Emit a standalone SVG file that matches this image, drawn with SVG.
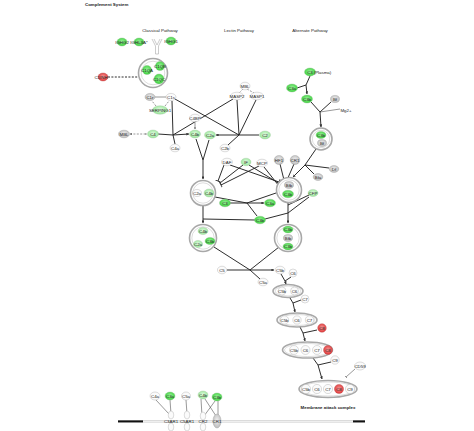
<svg xmlns="http://www.w3.org/2000/svg" width="474" height="431" viewBox="0 0 474 431">
<defs>
<style>
.t{font-family:"Liberation Sans",Arial,sans-serif;font-size:4.4px;text-anchor:middle;dominant-baseline:central;fill:#222}
.h{font-family:"Liberation Sans",Arial,sans-serif;font-size:4.6px;fill:#222}
.b{font-weight:bold}
.g{fill:url(#gg);stroke:#8fbf8f;stroke-width:0.4}
.lg{fill:url(#lgg);stroke:#a9c9a9;stroke-width:0.4}
.gr{fill:url(#grg);stroke:#999;stroke-width:0.4}
.w{fill:#fbfbfb;stroke:#aaa;stroke-width:0.4}
.r{fill:url(#rg);stroke:#b55;stroke-width:0.4}
.cx1{fill:#fff;stroke:#a8a8a8;stroke-width:1.6}
.cx2{fill:#fff;stroke:#bbb;stroke-width:0.5}
.ln{stroke:#222;stroke-width:0.95;fill:none}
.tn{stroke:#444;stroke-width:0.55;fill:none}
.d{stroke-dasharray:2,1.4}
</style>
<radialGradient id="gg" cx="50%" cy="45%" r="60%"><stop offset="0" stop-color="#9cf09c"/><stop offset="1" stop-color="#2fcf2f"/></radialGradient>
<radialGradient id="lgg" cx="50%" cy="45%" r="60%"><stop offset="0" stop-color="#e2fae2"/><stop offset="1" stop-color="#8ee38e"/></radialGradient>
<radialGradient id="grg" cx="50%" cy="45%" r="60%"><stop offset="0" stop-color="#f0f0f0"/><stop offset="1" stop-color="#b8b8b8"/></radialGradient>
<radialGradient id="rg" cx="50%" cy="45%" r="60%"><stop offset="0" stop-color="#f49a9a"/><stop offset="1" stop-color="#dd2a2a"/></radialGradient>
<marker id="a" viewBox="0 0 6 6" refX="5.5" refY="3" markerWidth="3" markerHeight="3" orient="auto"><path d="M0,0 L6,3 L0,6 z" fill="#333"/></marker>
<marker id="as" viewBox="0 0 6 6" refX="0.5" refY="3" markerWidth="3.2" markerHeight="3.2" orient="auto"><path d="M6,0 L0,3 L6,6 z" fill="#333"/></marker>
<marker id="tee" viewBox="0 0 2 8" refX="1" refY="4" markerWidth="1.6" markerHeight="6" orient="auto"><path d="M1,0 L1,8" stroke="#333" stroke-width="1.2"/></marker>
</defs>
<rect width="474" height="431" fill="#fff"/>

<text class="h b" x="85" y="6" style="font-size:4.4px">Complement System</text>
<text class="t" x="160" y="30">Classical Pathway</text>
<text class="t" x="239" y="30">Lectin Pathway</text>
<text class="t" x="310" y="30">Alternate Pathway</text>

<g id="connectors">
<line class="ln d" x1="108" y1="77" x2="138" y2="77"/>
<line class="tn" x1="155" y1="97" x2="166" y2="97"/>
<line class="tn d" x1="156" y1="106" x2="152" y2="101"/>
<line class="tn d" x1="165" y1="106" x2="169" y2="101"/>
<line class="ln" x1="172" y1="101" x2="173" y2="135"/>
<line class="ln" x1="175" y1="99" x2="239" y2="135"/>
<line class="ln" x1="233" y1="99" x2="173" y2="135"/>
<line class="ln" x1="237" y1="100" x2="239" y2="135"/>
<line class="ln" x1="256" y1="100" x2="239" y2="135"/>
<line class="tn d" x1="243" y1="89" x2="239" y2="93"/>
<line class="tn d" x1="247" y1="89" x2="254" y2="93"/>
<line class="tn d" x1="130" y1="134" x2="147" y2="134" marker-start="url(#as)" marker-end="url(#a)"/>
<line class="ln" x1="158" y1="134" x2="173" y2="135"/>
<line class="ln" x1="173" y1="135" x2="189" y2="134" marker-end="url(#a)"/>
<line class="ln" x1="173" y1="135" x2="175" y2="144"/>
<line class="tn" x1="195" y1="122" x2="195" y2="129" marker-end="url(#a)"/>
<line class="ln" x1="259" y1="135" x2="239" y2="135"/>
<line class="ln" x1="239" y1="135" x2="216" y2="135" marker-end="url(#a)"/>
<line class="ln" x1="239" y1="135" x2="228" y2="145"/>
<line class="ln" x1="196" y1="139" x2="203" y2="160"/>
<line class="ln" x1="209" y1="140" x2="203" y2="160"/>
<line class="ln" x1="203" y1="160" x2="203" y2="179" marker-end="url(#a)"/>
<line class="ln" x1="310" y1="76" x2="306" y2="85"/>
<line class="ln" x1="306" y1="85" x2="297" y2="88"/>
<line class="ln" x1="306" y1="85" x2="307" y2="94" marker-end="url(#a)"/>
<line class="ln" x1="311" y1="102" x2="320" y2="112"/>
<line class="ln" x1="331" y1="102" x2="320" y2="112"/>
<line class="tn" x1="340" y1="109" x2="320" y2="112"/>
<line class="ln" x1="320" y1="112" x2="321" y2="127" marker-end="url(#a)"/>
<line class="ln" x1="316" y1="149" x2="305" y2="165"/>
<line class="ln" x1="305" y1="165" x2="293" y2="177" marker-end="url(#a)"/>
<line class="ln" x1="329" y1="168" x2="305" y2="165"/>
<line class="ln" x1="305" y1="165" x2="314" y2="174"/>
<line class="ln" x1="280" y1="164" x2="284" y2="180" marker-end="url(#tee)"/>
<line class="ln" x1="294" y1="164" x2="287" y2="180" marker-end="url(#tee)"/>
<line class="ln" x1="224" y1="165" x2="218" y2="181" marker-end="url(#tee)"/>
<line class="ln" x1="230" y1="165" x2="279" y2="182" marker-end="url(#tee)"/>
<line class="ln" x1="243" y1="165" x2="220" y2="183" marker-end="url(#tee)"/>
<line class="ln" x1="249" y1="165" x2="280" y2="184" marker-end="url(#tee)"/>
<line class="ln" x1="259" y1="166" x2="221" y2="185" marker-end="url(#tee)"/>
<line class="ln" x1="264" y1="167" x2="279" y2="186" marker-end="url(#tee)"/>
<line class="ln" x1="215" y1="197" x2="247" y2="203"/>
<line class="ln" x1="276" y1="193" x2="247" y2="203"/>
<line class="ln" x1="230" y1="203" x2="247" y2="203"/>
<line class="ln" x1="247" y1="203" x2="264" y2="203" marker-end="url(#a)"/>
<line class="ln" x1="247" y1="203" x2="257" y2="216"/>
<line class="ln" x1="255" y1="220" x2="203" y2="219"/>
<line class="ln" x1="265" y1="219" x2="288" y2="213"/>
<line class="ln" x1="309" y1="195" x2="288" y2="205"/>
<line class="ln" x1="309" y1="197" x2="288" y2="213"/>
<line class="ln" x1="203" y1="206" x2="203" y2="223" marker-end="url(#a)"/>
<line class="ln" x1="288" y1="203" x2="288" y2="223" marker-end="url(#a)"/>
<line class="ln" x1="214" y1="247" x2="250" y2="270"/>
<line class="ln" x1="279" y1="247" x2="250" y2="270"/>
<line class="ln" x1="227" y1="270" x2="250" y2="270"/>
<line class="ln" x1="250" y1="270" x2="274" y2="270" marker-end="url(#a)"/>
<line class="ln" x1="250" y1="270" x2="260" y2="279"/>
<line class="ln" x1="281" y1="274" x2="285" y2="281"/>
<line class="ln" x1="291" y1="277" x2="285" y2="281"/>
<line class="ln" x1="285" y1="281" x2="286" y2="284" marker-end="url(#a)"/>
<line class="ln" x1="290" y1="298" x2="293" y2="303"/>
<line class="ln" x1="301" y1="300" x2="293" y2="303"/>
<line class="ln" x1="293" y1="303" x2="295" y2="312" marker-end="url(#a)"/>
<line class="ln" x1="300" y1="327" x2="303" y2="333"/>
<line class="ln" x1="317" y1="330" x2="303" y2="333"/>
<line class="ln" x1="303" y1="333" x2="305" y2="341" marker-end="url(#a)"/>
<line class="ln" x1="313" y1="358" x2="318" y2="365"/>
<line class="ln" x1="331" y1="362" x2="318" y2="365"/>
<line class="ln" x1="318" y1="365" x2="322" y2="379" marker-end="url(#a)"/>
<line class="tn" x1="355" y1="369" x2="346" y2="377" marker-end="url(#tee)"/>
<line class="tn" x1="156" y1="400" x2="169" y2="414"/>
<line class="tn" x1="170" y1="400" x2="171" y2="414"/>
<line class="tn" x1="186" y1="400" x2="187" y2="414"/>
<line class="tn" x1="201" y1="399" x2="202" y2="416"/>
<line class="tn" x1="205" y1="399" x2="216" y2="416"/>
<line class="tn" x1="215" y1="401" x2="204" y2="416"/>
<line class="tn" x1="218" y1="401" x2="218" y2="416"/>
</g>

<g id="membrane">
<line x1="118" y1="420.6" x2="365" y2="420.6" stroke="#999" stroke-width="0.4"/>
<line x1="118" y1="422.2" x2="365" y2="422.2" stroke="#999" stroke-width="0.4"/>
<line x1="118" y1="421.4" x2="143" y2="421.4" stroke="#111" stroke-width="2"/>
<line x1="353" y1="421.4" x2="365" y2="421.4" stroke="#111" stroke-width="2"/>
</g>

<g id="antibodies">
<ellipse class="g" cx="122" cy="42" rx="5" ry="4"/><text class="t" x="122" y="42">IGHG2</text>
<ellipse class="g" cx="139" cy="42" rx="5" ry="4"/><text class="t" x="139" y="42">IGHL3A*</text>
<ellipse class="g" cx="171" cy="41" rx="5" ry="4"/><text class="t" x="171" y="41">IGHG1</text>
<path d="M152,39 L155.5,46 L155.5,54 L158.5,54 L158.5,46 L162,39 M154,39 L157,45 L160,39" fill="none" stroke="#aaa" stroke-width="0.6"/>
</g>

<g id="C1">
<circle class="cx1" cx="153" cy="73" r="14.5"/><circle class="cx2" cx="153" cy="73" r="11.8"/>
<circle class="g" cx="160" cy="66" r="4.6"/><text class="t" x="160" y="66">C1QB</text>
<circle class="g" cx="147" cy="70" r="4.6"/><text class="t" x="147" y="70">C1QA</text>
<circle class="g" cx="159" cy="79" r="5"/><text class="t" x="159" y="79">C1QC</text>
</g>
<g id="C1INH"><ellipse class="r" cx="103" cy="77" rx="5" ry="4"/><text class="t" x="101" y="77">C1INH</text></g>
<g id="C1r"><ellipse class="gr" cx="150" cy="97" rx="5" ry="3.6"/><text class="t" x="150" y="97">C1r</text></g>
<g id="C1s"><ellipse class="w" cx="171" cy="97" rx="5" ry="3.6"/><text class="t" x="171" y="97">C1s</text></g>
<g id="SERPING1"><ellipse class="lg" cx="160" cy="110" rx="7.5" ry="4.2"/><text class="t" x="160" y="110">SERPING1</text></g>
<g id="MBL1"><ellipse class="gr" cx="124" cy="134" rx="5.5" ry="3.8"/><text class="t" x="124" y="134">MBL</text></g>
<g id="C4"><ellipse class="lg" cx="153" cy="134" rx="5.5" ry="4"/><text class="t" x="153" y="134">C4</text></g>
<g id="C4a"><ellipse class="w" cx="175" cy="148" rx="5" ry="3.8"/><text class="t" x="175" y="148">C4a</text></g>
<g id="C4b"><ellipse class="lg" cx="195" cy="134" rx="5.5" ry="4"/><text class="t" x="195" y="134">C4b</text></g>
<g id="C4BP"><ellipse class="w" cx="195" cy="118" rx="5.5" ry="3.8"/><text class="t" x="195" y="118">C4BP</text></g>
<g id="C2a"><ellipse class="lg" cx="210" cy="135" rx="5.5" ry="4"/><text class="t" x="210" y="135">C2a</text></g>
<g id="C2b"><ellipse class="w" cx="225" cy="148" rx="5" ry="3.8"/><text class="t" x="225" y="148">C2b</text></g>
<g id="C2"><ellipse class="lg" cx="265" cy="135" rx="5.5" ry="4"/><text class="t" x="265" y="135">C2</text></g>
<g id="MBL2"><ellipse class="w" cx="245" cy="86" rx="5" ry="3.8"/><text class="t" x="245" y="86">MBL</text></g>
<g id="MASP2"><ellipse class="w" cx="237" cy="96" rx="6.5" ry="3.8"/><text class="t" x="237" y="96">MASP2</text></g>
<g id="MASP1"><ellipse class="w" cx="257" cy="96" rx="6.5" ry="3.8"/><text class="t" x="257" y="96">MASP1</text></g>

<g id="C3plasma"><ellipse class="g" cx="310" cy="72" rx="5.5" ry="4"/><text class="t" x="310" y="72">C3</text><text class="t" x="322.5" y="72">(Plasma)</text></g>
<g id="C3a1"><ellipse class="g" cx="292" cy="88" rx="5.5" ry="4"/><text class="t" x="292" y="88">C3a</text></g>
<g id="C3b1"><ellipse class="g" cx="307" cy="99" rx="5.5" ry="4"/><text class="t" x="307" y="99">C3b</text></g>
<g id="Bf"><ellipse class="gr" cx="335" cy="99" rx="4.5" ry="3.6"/><text class="t" x="335" y="99">Bf</text></g>
<g id="Mg"><text class="t" x="346" y="110">Mg2+</text></g>
<g id="C3bB">
<circle class="cx1" cx="321" cy="139" r="11"/><circle class="cx2" cx="321" cy="139" r="8.7"/>
<ellipse class="g" cx="321" cy="135" rx="5" ry="3.6"/><text class="t" x="321" y="135">C3b</text>
<ellipse class="gr" cx="322" cy="143" rx="4.5" ry="3.4"/><text class="t" x="322" y="143">Bf</text>
</g>

<g id="DAF"><ellipse class="w" cx="227" cy="162" rx="5.5" ry="3.8"/><text class="t" x="227" y="162">DAF</text></g>
<g id="IF"><ellipse class="lg" cx="246" cy="162" rx="5" ry="3.8"/><text class="t" x="246" y="162">IF</text></g>
<g id="MCP"><ellipse class="w" cx="262" cy="163" rx="5.5" ry="3.8"/><text class="t" x="262" y="163">MCP</text></g>
<g id="HF1"><ellipse class="gr" cx="279" cy="160" rx="4.8" ry="4.5"/><text class="t" x="279" y="160">HF1</text></g>
<g id="CR1a"><ellipse class="gr" cx="295" cy="160" rx="4.8" ry="4.5"/><text class="t" x="295" y="160">CR1</text></g>
<g id="Df"><ellipse class="gr" cx="334" cy="169" rx="4.8" ry="3.4"/><text class="t" x="334" y="169">Df</text></g>
<g id="Bfa"><ellipse class="gr" cx="318" cy="177" rx="4.8" ry="3.4"/><text class="t" x="318" y="177">Bfa</text></g>

<g id="C4b2a">
<circle class="cx1" cx="203" cy="193" r="12.5"/><circle class="cx2" cx="203" cy="193" r="10.2"/>
<ellipse class="lg" cx="209" cy="193" rx="5" ry="4"/><text class="t" x="209" y="193">C4b</text>
<ellipse class="w" cx="197" cy="193" rx="4.6" ry="3.6"/><text class="t" x="197" y="193">C2a</text>
</g>
<g id="C3bBb">
<circle class="cx1" cx="289" cy="190" r="12.5"/><circle class="cx2" cx="289" cy="190" r="10.2"/>
<ellipse class="gr" cx="289" cy="185" rx="4.6" ry="3.4"/><text class="t" x="289" y="185">Bfb</text>
<ellipse class="g" cx="288" cy="194" rx="5.5" ry="3.8"/><text class="t" x="288" y="194">C3b</text>
</g>
<g id="CFP"><ellipse class="lg" cx="313" cy="193" rx="5" ry="3.6"/><text class="t" x="313" y="193">CFP</text></g>
<g id="C3"><ellipse class="g" cx="225" cy="203" rx="5.5" ry="3.8"/><text class="t" x="225" y="203">C3</text></g>
<g id="C3a2"><ellipse class="g" cx="270" cy="203" rx="5.5" ry="3.8"/><text class="t" x="270" y="203">C3a</text></g>
<g id="C3b2"><ellipse class="g" cx="260" cy="220" rx="5.5" ry="3.8"/><text class="t" x="260" y="220">C3b</text></g>

<g id="C4b2a3b">
<circle class="cx1" cx="203" cy="238" r="13.5"/><circle class="cx2" cx="203" cy="238" r="11.2"/>
<ellipse class="lg" cx="203" cy="231" rx="5" ry="3.6"/><text class="t" x="203" y="231">C4b</text>
<ellipse class="lg" cx="198" cy="244" rx="4.6" ry="3.6"/><text class="t" x="198" y="244">C2a</text>
<ellipse class="g" cx="210" cy="241" rx="5" ry="3.6"/><text class="t" x="210" y="241">C3b</text>
</g>
<g id="C3bBb3b">
<circle class="cx1" cx="288" cy="238" r="13.5"/><circle class="cx2" cx="288" cy="238" r="11.2"/>
<ellipse class="g" cx="288" cy="229.5" rx="5" ry="3.4"/><text class="t" x="288" y="229.5">C3b</text>
<ellipse class="gr" cx="288" cy="238" rx="4.6" ry="3.4"/><text class="t" x="288" y="238">Bfb</text>
<ellipse class="g" cx="288" cy="246.5" rx="5" ry="3.4"/><text class="t" x="288" y="246.5">C3b</text>
</g>

<g id="C5"><ellipse class="w" cx="222" cy="270" rx="4.6" ry="3.8"/><text class="t" x="222" y="270">C5</text></g>
<g id="C5b"><ellipse class="w" cx="280" cy="270" rx="5" ry="3.8"/><text class="t" x="280" y="270">C5b</text></g>
<g id="C5a"><ellipse class="w" cx="263" cy="282" rx="5" ry="3.8"/><text class="t" x="263" y="282">C5a</text></g>
<g id="C6"><circle class="w" cx="293" cy="273" r="4"/><text class="t" x="293" y="273">C6</text></g>

<g id="C5b6">
<ellipse class="cx1" cx="288" cy="291" rx="15" ry="6.5"/><ellipse class="cx2" cx="288" cy="291" rx="13" ry="5"/>
<circle class="w" cx="282" cy="291" r="4"/><text class="t" x="282" y="291">C5b</text>
<circle class="w" cx="294.5" cy="291" r="4"/><text class="t" x="294.5" y="291">C6</text>
</g>
<g id="C7"><circle class="w" cx="305" cy="299" r="4"/><text class="t" x="305" y="299">C7</text></g>
<g id="C5b67">
<ellipse class="cx1" cx="297" cy="320" rx="20" ry="7"/><ellipse class="cx2" cx="297" cy="320" rx="18" ry="5.5"/>
<circle class="w" cx="284.5" cy="320" r="4.2"/><text class="t" x="284.5" y="320">C5b</text>
<circle class="w" cx="297" cy="320" r="4.2"/><text class="t" x="297" y="320">C6</text>
<circle class="w" cx="309.5" cy="320" r="4.2"/><text class="t" x="309.5" y="320">C7</text>
</g>
<g id="C8"><circle class="r" cx="322" cy="328" r="4.3"/><text class="t" x="322" y="328">C8</text></g>
<g id="C5b678">
<ellipse class="cx1" cx="307.5" cy="350" rx="25" ry="8"/><ellipse class="cx2" cx="307.5" cy="350" rx="23" ry="6.5"/>
<circle class="w" cx="294" cy="350" r="4.5"/><text class="t" x="294" y="350">C5b</text>
<circle class="w" cx="305.5" cy="350" r="4.5"/><text class="t" x="305.5" y="350">C6</text>
<circle class="w" cx="317" cy="350" r="4.5"/><text class="t" x="317" y="350">C7</text>
<circle class="r" cx="328" cy="350" r="4.5"/><text class="t" x="328" y="350">C8</text>
</g>
<g id="C9"><circle class="w" cx="335" cy="360" r="4.2"/><text class="t" x="335" y="360">C9</text></g>
<g id="CD59"><ellipse class="w" cx="360" cy="366" rx="5.5" ry="4"/><text class="t" x="360" y="366">CD59</text></g>
<g id="MAC">
<ellipse class="cx1" cx="328" cy="389" rx="29" ry="8.5"/><ellipse class="cx2" cx="328" cy="389" rx="27" ry="7"/>
<circle class="w" cx="306" cy="389" r="4.6"/><text class="t" x="306" y="389">C5b</text>
<circle class="w" cx="317" cy="389" r="4.6"/><text class="t" x="317" y="389">C6</text>
<circle class="w" cx="328" cy="389" r="4.6"/><text class="t" x="328" y="389">C7</text>
<circle class="r" cx="339" cy="389" r="4.6"/><text class="t" x="339" y="389">C8</text>
<circle class="w" cx="350" cy="389" r="4.6"/><text class="t" x="350" y="389">C9</text>
<text class="t b" x="328" y="407">Membrane attack complex</text>
</g>

<g id="C4a2"><ellipse class="w" cx="155" cy="396" rx="5" ry="4"/><text class="t" x="155" y="396">C4a</text></g>
<g id="C3a3"><ellipse class="g" cx="170" cy="396" rx="5" ry="4"/><text class="t" x="170" y="396">C3a</text></g>
<g id="C5a2"><ellipse class="w" cx="186" cy="396" rx="4.5" ry="4"/><text class="t" x="186" y="396">C5a</text></g>
<g id="C4b3"><ellipse class="lg" cx="203" cy="395" rx="5" ry="4"/><text class="t" x="203" y="395">C4b</text></g>
<g id="C3b3"><ellipse class="g" cx="217" cy="397" rx="5" ry="4"/><text class="t" x="217" y="397">C3b</text></g>

<g id="C3AR1"><ellipse class="w" cx="171" cy="415" rx="2.8" ry="4"/><ellipse class="w" cx="171" cy="427" rx="2.8" ry="4"/><text class="t" x="171" y="421">C3AR1</text></g>
<g id="C5AR1"><ellipse class="w" cx="187" cy="415" rx="2.8" ry="4"/><ellipse class="w" cx="187" cy="427" rx="2.8" ry="4"/><text class="t" x="187" y="421">C5AR1</text></g>
<g id="CR2"><ellipse class="w" cx="203" cy="416" rx="2.8" ry="4"/><ellipse class="w" cx="203" cy="427" rx="2.8" ry="4"/><text class="t" x="203" y="421.5">CR2</text></g>
<g id="CR1b"><ellipse class="gr" cx="217" cy="421" rx="4" ry="7"/><text class="t" x="217" y="421">CR1</text></g>
</svg>
